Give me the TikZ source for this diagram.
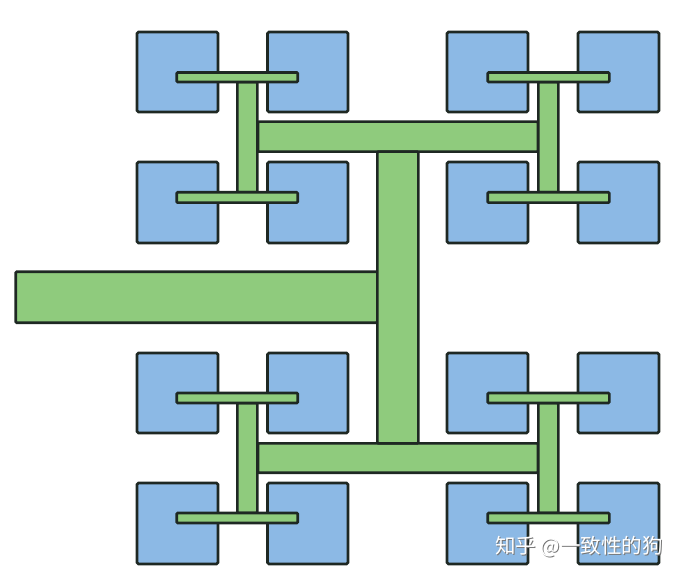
\documentclass[tikz,border=0pt]{standalone}
\usepackage{fontspec}
\newfontfamily\cjk{Noto Sans CJK SC}
\definecolor{sqblue}{RGB}{140,185,229}
\definecolor{wire}{RGB}{143,203,125}
\definecolor{edgecol}{RGB}{30,40,35}
\definecolor{shadowgray}{RGB}{120,120,120}
\tikzset{
  sq/.style={draw=edgecol, fill=sqblue, line width=2.6pt, rounded corners=1.5pt},
  bar/.style={draw=edgecol, fill=wire, line width=2.6pt, rounded corners=1pt},
  mark/.style={}
}
\begin{document}
\begin{tikzpicture}[x=1pt,y=-1pt]
\useasboundingbox (0,0) rectangle (682,577);
% squares
\foreach \xa/\xb in {137/218, 267.5/348, 447/528, 578/659}{
  \foreach \ya/\yb in {32/112, 162/243, 353/433, 483/564}{
    \draw[sq] (\xa,\ya) rectangle (\xb,\yb);
  }
}
% big bars
\draw[bar] (258,121.7) rectangle (538,151.7);
\draw[bar] (258,443.3) rectangle (538,472.7);
\draw[bar] (15.7,271.7) rectangle (377.3,322.7);
\draw[bar] (377.3,151.7) rectangle (418.3,443.3);
% small vertical bars
\draw[bar] (237.3,82) rectangle (257.3,192.3);
\draw[bar] (538.3,82) rectangle (558.3,192.3);
\draw[bar] (237.3,403) rectangle (257.3,513);
\draw[bar] (538.3,403) rectangle (558.3,513);
% small horizontal bars
\foreach \xa/\xb in {176.7/297.7, 487.7/609.3}{
  \foreach \ya/\yb in {72.5/82, 192.3/202.7, 393/403, 513/523}{
    \draw[bar] (\xa,\ya) rectangle (\xb,\yb);
  }
}
% watermark
\node[text=shadowgray, font=\cjk\fontsize{20.5}{22}\selectfont, inner sep=0pt] (wms) at (579.8,547.8) {知乎 @一致性的狗};
\node[text=white, font=\cjk\fontsize{20.5}{22}\selectfont, inner sep=0pt] (wm) at (579,547) {知乎 @一致性的狗};
\end{tikzpicture}
\end{document}
